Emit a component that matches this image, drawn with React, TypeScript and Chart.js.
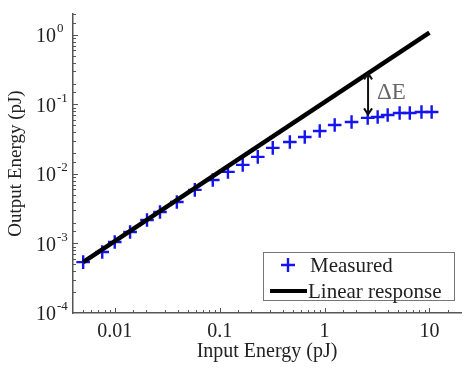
import React, { useEffect, useRef } from 'react';
import { Chart, registerables } from 'chart.js';

Chart.register(...registerables);

// ---- data ----
const inputEnergy = [0.005, 0.0076, 0.01, 0.014, 0.0203, 0.027, 0.0391, 0.058, 0.086, 0.12, 0.166, 0.231, 0.321, 0.467, 0.648, 0.9, 1.25, 1.81, 2.58, 3.21, 4.0, 5.2, 6.5, 8.4, 10.5];
const measuredOutput = [5.4e-4, 7.55e-4, 1.05e-3, 1.46e-3, 2.18e-3, 2.84e-3, 3.95e-3, 5.9e-3, 8.2e-3, 0.0107, 0.0135, 0.0176, 0.0237, 0.0288, 0.034, 0.0416, 0.0507, 0.056, 0.064, 0.066, 0.0706, 0.0755, 0.0755, 0.078, 0.078];
const linearInput = [0.005, 10];
const linearOutput = [0.00054, 1.08];
const xTickValues = [0.01, 0.1, 1, 10];
const xTickLabels = ['0.01', '0.1', '1', '10'];
const yTickValues = [1e-4, 1e-3, 1e-2, 1e-1, 1];
const yTickExponents = ['-4', '-3', '-2', '-1', '0'];
const deltaEInput = 2.6;
const deltaETop = 0.28;
const deltaEBottom = 0.072;
const deltaELabelY = 0.146;
const deltaELabel = '\u0394E';
const seriesLabels = ['Linear response', 'Measured'];
const axisTitles = ['Input Energy (pJ)', 'Output Energy (pJ)'];

const FONT = "'Liberation Serif', 'Times New Roman', serif";
const BLUE = '#1414f0';

const isPow10 = (v: number) => Math.abs(Math.log10(v) - Math.round(Math.log10(v))) < 1e-6;

const overlay = {
  id: 'overlay',
  afterDraw(chart: any) {
    const { ctx, chartArea, scales } = chart;
    const xs = scales.x;
    const ys = scales.y;
    ctx.save();

    // inward tick marks
    ctx.strokeStyle = '#555';
    ctx.lineWidth = 1;
    for (const t of xs.ticks) {
      const px = Math.round(xs.getPixelForValue(t.value)) + 0.5;
      if (px < chartArea.left + 1 || px > chartArea.right) continue;
      const len = isPow10(t.value) ? 5 : 3;
      ctx.beginPath();
      ctx.moveTo(px, chartArea.bottom);
      ctx.lineTo(px, chartArea.bottom - len);
      ctx.stroke();
    }
    for (const t of ys.ticks) {
      const py = Math.round(ys.getPixelForValue(t.value)) + 0.5;
      if (py > chartArea.bottom - 1 || py < chartArea.top) continue;
      const len = isPow10(t.value) ? 5 : 3;
      ctx.beginPath();
      ctx.moveTo(chartArea.left, py);
      ctx.lineTo(chartArea.left + len, py);
      ctx.stroke();
    }

    // y tick labels: 10 with superscript exponent
    ctx.fillStyle = '#222';
    yTickValues.forEach((v, i) => {
      const py = ys.getPixelForValue(v);
      const xr = chartArea.left - 17;
      ctx.font = `20px ${FONT}`;
      ctx.textAlign = 'right';
      ctx.textBaseline = 'middle';
      ctx.fillText('10', xr, py + 2);
      ctx.font = `13px ${FONT}`;
      ctx.textAlign = 'left';
      ctx.fillText(yTickExponents[i], xr + 1, py - 6);
    });

    // Delta E arrow
    const ax = xs.getPixelForValue(deltaEInput);
    const ay1 = ys.getPixelForValue(deltaETop);
    const ay2 = ys.getPixelForValue(deltaEBottom);
    ctx.strokeStyle = '#111';
    ctx.lineWidth = 2;
    ctx.beginPath();
    ctx.moveTo(ax, ay1);
    ctx.lineTo(ax, ay2);
    ctx.moveTo(ax - 4, ay1 + 6);
    ctx.lineTo(ax, ay1);
    ctx.lineTo(ax + 4, ay1 + 6);
    ctx.moveTo(ax - 4, ay2 - 6);
    ctx.lineTo(ax, ay2);
    ctx.lineTo(ax + 4, ay2 - 6);
    ctx.stroke();
    ctx.fillStyle = '#666';
    ctx.font = `23px ${FONT}`;
    ctx.textAlign = 'left';
    ctx.textBaseline = 'middle';
    ctx.fillText(deltaELabel, ax + 9, ys.getPixelForValue(deltaELabelY));

    // legend
    const w = 191;
    const h = 48;
    const lx = chartArea.right - 7 - w;
    const ly = chartArea.bottom - 13 - h;
    ctx.fillStyle = '#fff';
    ctx.fillRect(lx, ly, w, h);
    ctx.strokeStyle = '#777';
    ctx.lineWidth = 1;
    ctx.strokeRect(lx + 0.5, ly + 0.5, w, h);
    const ds = chart.data.datasets;
    // Measured row
    const r1 = ly + 13;
    ctx.strokeStyle = BLUE;
    ctx.lineWidth = 2.4;
    ctx.beginPath();
    ctx.moveTo(lx + 25 - 7, r1);
    ctx.lineTo(lx + 25 + 7, r1);
    ctx.moveTo(lx + 25, r1 - 7);
    ctx.lineTo(lx + 25, r1 + 7);
    ctx.stroke();
    ctx.fillStyle = '#222';
    ctx.font = `21px ${FONT}`;
    ctx.textAlign = 'left';
    ctx.textBaseline = 'middle';
    ctx.fillText(ds[1].label, lx + 47, r1 + 1);
    // Linear row
    const r2 = ly + 39;
    ctx.strokeStyle = '#000';
    ctx.lineWidth = 4;
    ctx.beginPath();
    ctx.moveTo(lx + 7, r2);
    ctx.lineTo(lx + 44, r2);
    ctx.stroke();
    ctx.fillText(ds[0].label, lx + 45, r2 + 1);

    ctx.restore();
  },
};

export default function App() {
  const ref = useRef<HTMLCanvasElement | null>(null);

  useEffect(() => {
    document.body.style.margin = '0';
    const canvas = ref.current;
    if (!canvas) return;
    const chart = new Chart(canvas, {
      type: 'line',
      data: {
        datasets: [
          {
            label: seriesLabels[0],
            data: linearInput.map((x, i) => ({ x, y: linearOutput[i] })),
            borderColor: '#000',
            backgroundColor: '#000',
            borderWidth: 4.5,
            pointRadius: 0,
            fill: false,
            tension: 0,
          },
          {
            label: seriesLabels[1],
            data: inputEnergy.map((x, i) => ({ x, y: measuredOutput[i] })),
            showLine: false,
            pointStyle: 'cross',
            pointRadius: 6.8,
            pointBorderWidth: 2.4,
            borderColor: BLUE,
            backgroundColor: BLUE,
            pointBorderColor: BLUE,
          },
        ],
      },
      options: {
        responsive: false,
        animation: false,
        devicePixelRatio: 1,
        layout: { padding: { top: 14, right: 13, left: 0, bottom: 0 } },
        plugins: {
          legend: { display: false },
          tooltip: { enabled: false },
        },
        scales: {
          x: {
            type: 'logarithmic',
            position: 'bottom',
            min: 0.004,
            max: 20,
            grid: { display: false },
            border: { display: true, color: '#555', width: 1.5 },
            ticks: {
              autoSkip: false,
              maxRotation: 0,
              padding: -1,
              color: '#222',
              font: { family: FONT, size: 20 },
              callback: (v: any) => {
                const idx = xTickValues.findIndex((t) => Math.abs(Math.log10(Number(v)) - Math.log10(t)) < 1e-6);
                return idx >= 0 ? xTickLabels[idx] : '';
              },
            },
            title: {
              display: true,
              text: axisTitles[0],
              color: '#222',
              font: { family: FONT, size: 20 },
              padding: { top: 0, bottom: 4 },
            },
            afterFit: (s: any) => {
              s.height = 55;
            },
          },
          y: {
            type: 'logarithmic',
            min: 1e-4,
            max: 2,
            grid: { display: false },
            border: { display: true, color: '#555', width: 1.5 },
            ticks: { display: false },
            title: {
              display: true,
              text: axisTitles[1],
              color: '#222',
              font: { family: FONT, size: 19 },
              padding: { top: 5, bottom: 0 },
            },
            afterFit: (s: any) => {
              s.width = 73;
            },
          },
        },
      },
      plugins: [overlay],
    } as any);
    return () => chart.destroy();
  }, []);

  return (
    <div style={{ width: 474, height: 368, background: '#fff' }}>
      <canvas ref={ref} width={474} height={368} style={{ display: 'block' }} />
    </div>
  );
}
